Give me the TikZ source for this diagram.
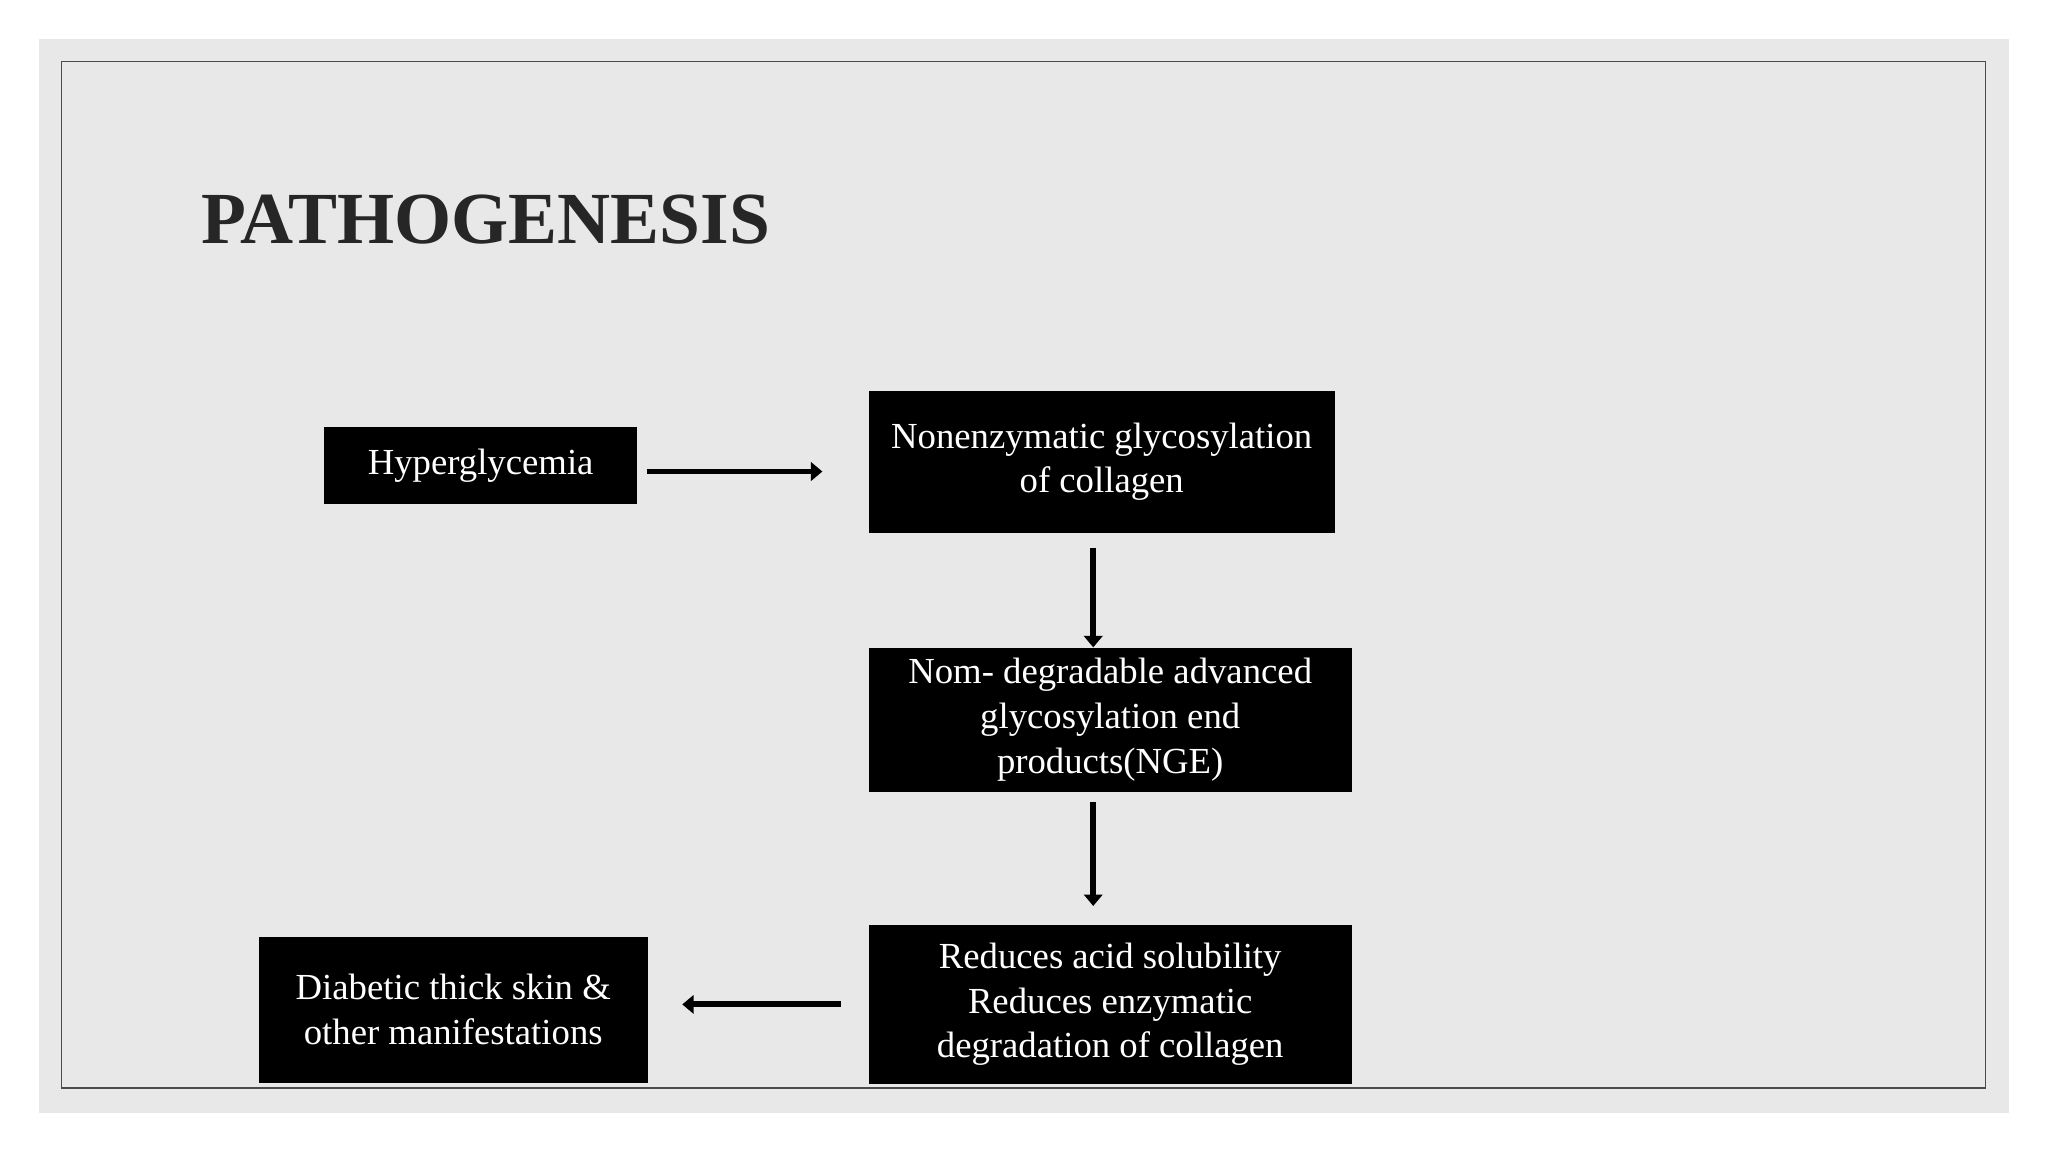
\documentclass[tikz,border=0pt]{standalone}
\usepackage{fontspec}
\setmainfont{Liberation Serif}
\usetikzlibrary{arrows.meta}
\begin{document}
\begin{tikzpicture}[x=0.02cm,y=-0.02cm,
  box/.style={fill=black,text=white,font=\fontsize{16}{19.5}\selectfont,align=center,inner sep=0pt},
  arr/.style={line width=2.6pt,-{Triangle[length=5pt,width=8pt]}}]
\useasboundingbox (0,0) rectangle (1568,882);
\fill[white] (0,0) rectangle (1568,882);
\fill[gray!18] (30,30) rectangle (1538,852);
\draw[line width=0.6pt,black!70] (47,47) rectangle (1520,833);
\node[anchor=west,font=\fontsize{32}{36}\bfseries\selectfont,text=black!85] (t) at (148,168) {PATHOGENESIS};
\node[box,minimum width=240*0.02cm,minimum height=59*0.02cm] (n1) at (368,356.5) {Hyperglycemia};
\node[box,minimum width=357*0.02cm,minimum height=109*0.02cm] (n2) at (843.5,353.5) {Nonenzymatic glycosylation\\of collagen};
\node[box,minimum width=370*0.02cm,minimum height=110*0.02cm] (n3) at (850,551) {Nom- degradable advanced\\glycosylation end\\products(NGE)};
\node[box,minimum width=370*0.02cm,minimum height=122*0.02cm] (n4) at (850,769) {Reduces acid solubility\\Reduces enzymatic\\degradation of collagen};
\node[box,minimum width=298*0.02cm,minimum height=112*0.02cm] (n5) at (347,773) {Diabetic thick skin \&\\other manifestations};
\coordinate (ax) at (837,0);
\draw[arr,shorten <=7*0.02cm,shorten >=35*0.02cm] (n1.east |- 0,361) -- (n2.west |- 0,361);
\draw[arr,shorten <=11*0.02cm] (n2.south -| ax) -- (n3.north -| ax);
\draw[arr,shorten <=8*0.02cm,shorten >=14*0.02cm] (n3.south -| ax) -- (n4.north -| ax);
\draw[arr,shorten <=21*0.02cm,shorten >=26*0.02cm] (n4.west) -- (n5.east |- n4.west);
\end{tikzpicture}
\end{document}
